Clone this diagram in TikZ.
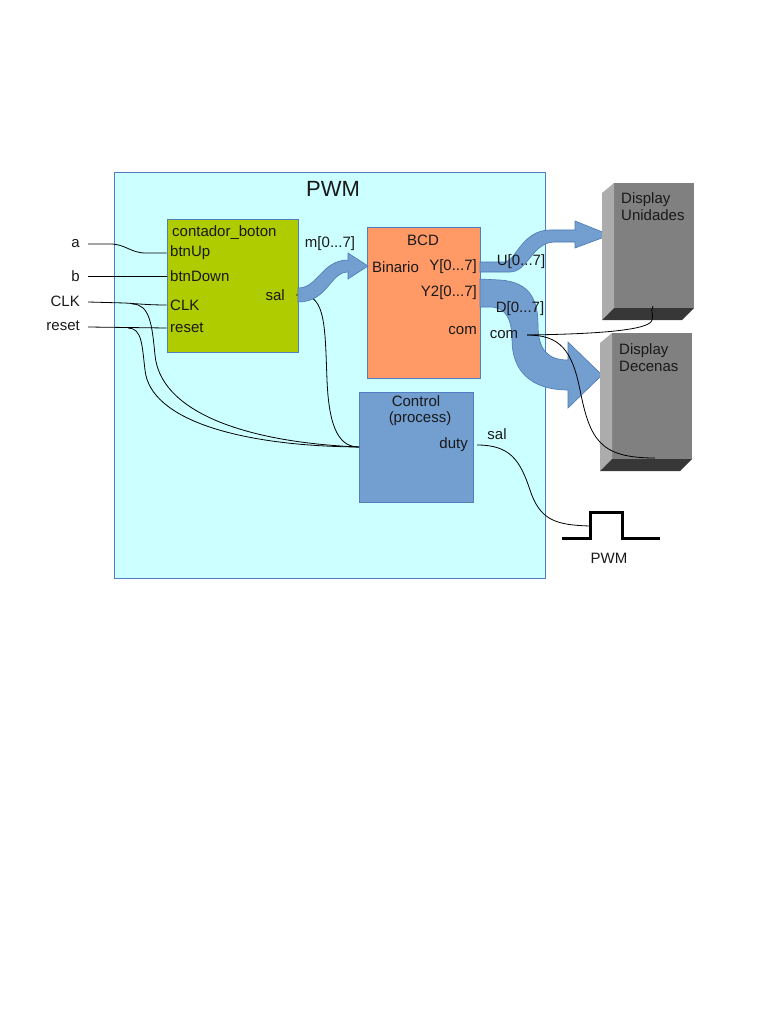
\documentclass[tikz,border=0pt]{standalone}
\usepackage{fontspec}
\setmainfont{Liberation Sans}
\usepackage{tikz}
\usetikzlibrary{positioning}
\definecolor{cyanbg}{RGB}{204,255,255}
\definecolor{boxline}{RGB}{80,125,195}
\definecolor{limegreen}{RGB}{174,204,0}
\definecolor{salmon}{RGB}{255,153,102}
\definecolor{ctrlblue}{RGB}{114,159,207}
\definecolor{busblue}{RGB}{114,159,207}
\definecolor{busline}{RGB}{75,120,185}
\definecolor{dispfront}{RGB}{128,128,128}
\definecolor{dispside}{RGB}{172,172,172}
\definecolor{dispbottom}{RGB}{55,55,55}
\definecolor{txt}{RGB}{25,25,25}
\tikzset{
    block/.style={
           rectangle,
           draw=boxline, thick,
           inner sep=0pt,
           },
}
\tikzset{
    port/.style={
           text=txt,
           inner sep=1pt,
           font=\fontsize{15}{17}\selectfont,
           },
}
\tikzset{
    wire/.style={
           black, line width=0.8pt,
           },
}
\tikzset{
    bus/.style={
           fill=busblue, draw=busline, line width=0.6pt,
           },
}

\begin{document}
\begin{tikzpicture}[x=1pt,y=-1pt]
\useasboundingbox (0,0) rectangle (768,1024);
\node[block, fill=cyanbg, minimum width=431pt, minimum height=406pt] (pwm) at (329.5,375) {};
\node[port, font=\fontsize{22}{24}\selectfont] (pwmtitle) at (333,189) {PWM};
\node[block, fill=limegreen, minimum width=131pt, minimum height=133pt] (contador) at (232.5,285.5) {};
\node[block, fill=salmon, minimum width=113pt, minimum height=151pt] (bcd) at (423.5,302.5) {};
\node[block, fill=ctrlblue, minimum width=114pt, minimum height=110pt] (control) at (416,447) {};
\node[port, anchor=west] (contname) at (171,233) {contador\_boton};
\node[port, anchor=west] (btnup) at (169,253) {btnUp};
\node[port, anchor=west] (btndown) at (169,276) {btnDown};
\node[port, anchor=west] (clkin) at (169,305) {CLK};
\node[port, anchor=west] (resetin) at (169,328) {reset};
\node[port, anchor=east] (salout) at (286,295) {sal};
\node[port, anchor=east] (ina) at (81,244) {a};
\node[port, anchor=east] (inb) at (81,276) {b};
\node[port, anchor=east] (inclk) at (81,301) {CLK};
\node[port, anchor=east] (inreset) at (81,326) {reset};
\node[port] (bcdname) at (423,240) {BCD};
\node[port, anchor=west] (binario) at (371,267) {Binario};
\node[port, anchor=east] (yout) at (478,267) {Y[0...7]};
\node[port, anchor=east] (y2out) at (478,293) {Y2[0...7]};
\node[port, anchor=east] (comout) at (478,331) {com};
\node[port] (ctrlname) at (416,401) {Control};
\node[port] (ctrlproc) at (420,419) {(process)};
\node[port, anchor=east] (duty) at (469,445) {duty};
\coordinate (a0) at (88,244);
\coordinate (b0) at (88,276);
\coordinate (clk0) at (88,302);
\coordinate (reset0) at (88,327);
\coordinate (sal0) at (296,295);
\coordinate (ctrlin) at (359,447);
\coordinate (duty0) at (477,445);
\coordinate (com0) at (527,335);
\draw[wire] (a0) -- (110,244) .. controls (126,244) and (130,253) .. (146,253) -- (contador.west |- btnup);
\draw[wire] (b0) -- (contador.west |- btndown);
\draw[wire] (clk0) -- (125,303) .. controls (140,304) and (150,305) .. (contador.west |- clkin);
\draw[wire] (reset0) -- (contador.west |- resetin);
\draw[wire] (132,304) .. controls (150,304) and (152,325) .. (155,355) .. controls (160,410) and (240,442) .. (ctrlin);
\draw[wire] (128,328) .. controls (142,328) and (142,345) .. (145,370) .. controls (150,420) and (240,446) .. (ctrlin);
\draw[wire] (sal0) -- (302,295) .. controls (326,295) and (325,330) .. (327,380) .. controls (329,430) and (340,447) .. (ctrlin);
\draw[wire] (duty0) .. controls (510,445) and (520,460) .. (530,490) .. controls (540,520) and (555,525) .. (590,526);
\draw[black, line width=3pt] (562,538) -- (590,538) -- (590,512) -- (622,512) -- (622,538) -- (660,538);
\node[port] (pwmlabel) at (609,558) {PWM};
\node[port] (salduty) at (497,434) {sal};
% buses
\filldraw[bus] (298,288) .. controls (318,288) and (322,260) .. (348,260) -- (348,253) -- (368,266) -- (348,279) -- (348,272) .. controls (330,272) and (328,302) .. (298,302) -- cycle;
\filldraw[bus] (480,262) -- (505,262) .. controls (515,262) and (522,230) .. (550,230) -- (575,230) -- (575,221) -- (610,235) -- (575,248) -- (575,242) -- (555,242) .. controls (532,242) and (528,272) .. (510,272) -- (480,272) -- cycle;
\filldraw[bus] (480,279) -- (500,280) .. controls (530,282) and (538,300) .. (538,325) .. controls (538,350) and (548,360) .. (568,360) -- (568,342) -- (602,375) -- (568,408) -- (568,390) .. controls (530,390) and (512,370) .. (512,340) .. controls (512,318) and (505,307) .. (490,307) -- (480,307) -- cycle;
\node[port] (mbus) at (330,244) {m[0...7]};
\node[port] (ubus) at (521,262) {U[0...7]};
\node[port] (dbus) at (520,309) {D[0...7]};
\node[port] (comlabel) at (504,335) {com};
% displays
\fill[dispfront] (614,183) rectangle (694,308);
\fill[dispside] (602,193) -- (614,183) -- (614,308) -- (602,320) -- cycle;
\fill[dispbottom] (602,320) -- (614,308) -- (694,308) -- (682,320) -- cycle;
\node[port, anchor=north west, align=left] (dispu) at (620,191) {Display\\Unidades};
\fill[dispfront] (612,333) rectangle (692,459);
\fill[dispside] (600,343) -- (612,333) -- (612,459) -- (600,471) -- cycle;
\fill[dispbottom] (600,471) -- (612,459) -- (692,459) -- (680,471) -- cycle;
\node[port, anchor=north west, align=left] (dispd) at (618,342) {Display\\Decenas};
\coordinate (unicom) at (653,306);
\coordinate (deccom) at (655,458);
\draw[wire] (com0) .. controls (600,334) and (650,330) .. (652,320) .. controls (654,314) and (650,312) .. (unicom);
\draw[wire] (com0) .. controls (560,335) and (572,350) .. (580,390) .. controls (590,440) and (600,458) .. (deccom);
\end{tikzpicture}
\end{document}
